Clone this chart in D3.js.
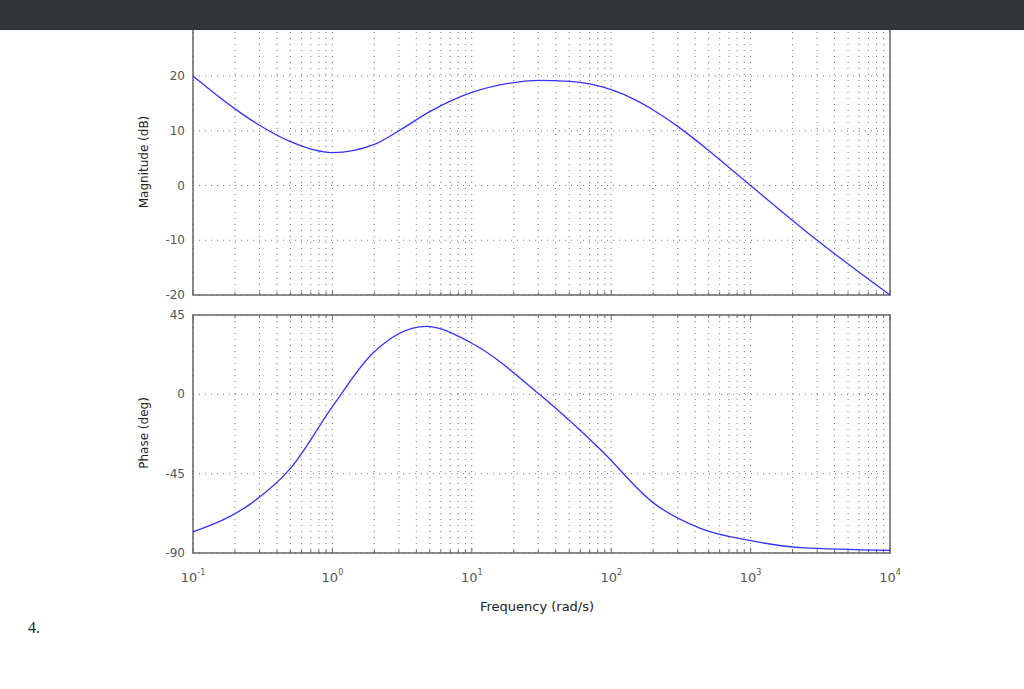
<!DOCTYPE html>
<html><head><meta charset="utf-8">
<script src="https://cdn.jsdelivr.net/npm/d3@7"></script>
<style>body{margin:0;background:#fff;overflow:hidden}</style>
</head><body>
<svg id="c" width="1024" height="689"></svg>
<script>
// Bode plot values
var magFreq = [0.1, 0.2, 0.3, 0.5, 1, 2, 3, 5, 10, 20, 30, 50, 100, 150, 200, 300, 500, 700, 1000, 3000, 10000];
var magDb   = [20, 14, 11, 8, 6, 7.5, 10, 13.5, 17, 18.8, 19.2, 19, 17.5, 15.6, 13.8, 10.8, 6.4, 3.3, 0, -10, -20];
var phFreq  = [0.1, 0.26, 0.5, 1, 1.93, 4.7, 10, 31.6, 83, 204, 436, 1000, 2300, 10000];
var phDeg   = [-78, -62, -42, -7, 23, 38.6, 29, -1, -31, -62, -76, -83, -87, -88.5];
var decades = [0.1, 1, 10, 100, 1000, 10000];
var decLabels = ["-1", "0", "1", "2", "3", "4"];
var magTicks = [-20, -10, 0, 10, 20];
var phTicks = [-90, -45, 0, 45];

var svg = d3.select('#c');
var x = d3.scaleLog().domain([0.1, 10000]).range([193, 890]);
var yMag = d3.scaleLinear().domain([-20, 20]).range([295, 76]);
var yPh = d3.scaleLinear().domain([-90, 45]).range([553, 315]);

var minor = [];
decades.slice(0, -1).forEach(function(d){ for (var k = 2; k <= 9; k++) minor.push(d * k); });
var allX = minor.concat(decades);
function isMajor(d){ return decades.indexOf(d) >= 0; }

function panel(y, top, ticks, fr, vals, label, labelY){
  var bot = y.range()[0];
  var g = svg.append('g');
  g.selectAll('.vg').data(allX).enter().append('line')
    .attr('x1', d => x(d)).attr('x2', d => x(d)).attr('y1', top).attr('y2', bot)
    .attr('stroke', '#777').attr('stroke-width', 1).attr('stroke-dasharray', '1,5');
  g.selectAll('.hg').data(ticks).enter().append('line')
    .attr('x1', 193).attr('x2', 890).attr('y1', d => y(d)).attr('y2', d => y(d))
    .attr('stroke', '#777').attr('stroke-dasharray', '1,5');
  g.selectAll('.tb').data(allX).enter().append('line')
    .attr('x1', d => x(d)).attr('x2', d => x(d)).attr('y1', bot).attr('y2', d => bot - (isMajor(d) ? 5 : 3))
    .attr('stroke', '#666');
  g.selectAll('.tt').data(allX).enter().append('line')
    .attr('x1', d => x(d)).attr('x2', d => x(d)).attr('y1', top).attr('y2', d => top + (isMajor(d) ? 5 : 3))
    .attr('stroke', '#666');
  g.selectAll('.yl').data(ticks).enter().append('text')
    .attr('x', 185).attr('y', d => y(d) + 4).attr('text-anchor', 'end')
    .attr('font-family', 'DejaVu Sans, sans-serif').attr('font-size', 12).attr('fill', '#555')
    .text(d => d);
  g.append('rect').attr('x', 193).attr('y', top).attr('width', 697).attr('height', bot - top)
    .attr('fill', 'none').attr('stroke', '#666').attr('stroke-width', 1.5);
  var line = d3.line().x(d => x(d[0])).y(d => y(d[1])).curve(d3.curveMonotoneX);
  g.append('path').datum(fr.map((f, i) => [f, vals[i]])).attr('d', line)
    .attr('fill', 'none').attr('stroke', '#3333ff').attr('stroke-width', 1.3);
  svg.append('text').attr('transform', 'translate(148,' + labelY + ') rotate(-90)')
    .attr('text-anchor', 'middle').attr('font-family', 'DejaVu Sans, sans-serif')
    .attr('font-size', 12).attr('fill', '#222').text(label);
}
panel(yMag, 20, magTicks, magFreq, magDb, 'Magnitude (dB)', 162);
panel(yPh, 315, phTicks, phFreq, phDeg, 'Phase (deg)', 433);

var xl = svg.append('g');
decades.forEach(function(d, i){
  var t = xl.append('text').attr('x', x(d)).attr('y', 582).attr('text-anchor', 'middle')
    .attr('font-family', 'DejaVu Sans, sans-serif').attr('font-size', 13).attr('fill', '#555');
  t.append('tspan').text('10');
  t.append('tspan').attr('dy', -7).attr('font-size', 8).text(decLabels[i]);
});
svg.append('text').attr('x', 537).attr('y', 611).attr('text-anchor', 'middle')
  .attr('font-family', 'DejaVu Sans, sans-serif').attr('font-size', 13).attr('fill', '#222')
  .text('Frequency (rad/s)');
svg.append('text').attr('x', 28).attr('y', 633).attr('font-family', 'Liberation Serif, serif')
  .attr('font-size', 16).attr('fill', '#222').text('4.');
svg.append('rect').attr('x', 0).attr('y', 0).attr('width', 1024).attr('height', 30).attr('fill', '#323639');
</script>
</body></html>
